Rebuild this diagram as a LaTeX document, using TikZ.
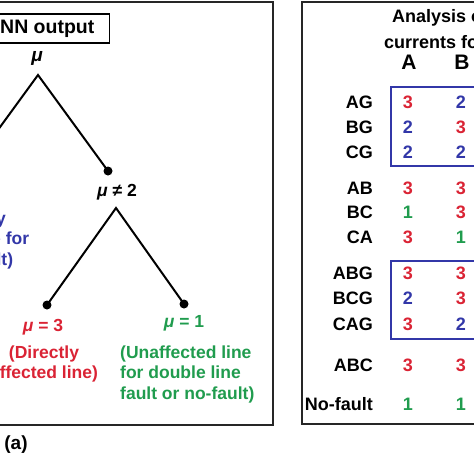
\documentclass[tikz,border=0pt]{standalone}
\usepackage{fontspec}
\setmainfont{Liberation Sans}
\usepackage{xcolor}
\usepackage{tikz}
\usetikzlibrary{positioning,calc}

\definecolor{faultred}{RGB}{218,35,52}
\definecolor{faultblue}{RGB}{50,55,168}
\definecolor{faultgreen}{RGB}{32,156,78}

\begin{document}
\begin{tikzpicture}[
    x=1pt, y=-1pt,
    every node/.style={font=\fontsize{17.5}{20.5}\selectfont\bfseries, inner sep=0pt},
    panel/.style={draw=black!85, line width=1.8pt},
    branch/.style={draw, line width=2pt},
    leaf/.style={circle, fill, minimum size=9pt},
    group/.style={draw=faultblue, line width=1.2pt},
    rowname/.style={anchor=east, font=\fontsize{18}{21}\selectfont\bfseries},
    entry/.style={font=\fontsize{18}{21}\selectfont\bfseries},
    colhead/.style={font=\fontsize{21}{24}\selectfont\bfseries}
]
\useasboundingbox (0,0) rectangle (474,474);

\draw[panel] (-5,2) rectangle (273,425);
\draw[panel] (302,2) rectangle (480,424);

\node[draw, line width=1.2pt, minimum height=29pt, inner xsep=15pt, anchor=east,
      font=\fontsize{19.5}{22}\selectfont\bfseries] (nn_out) at (110,28.5) {NN output};

\node[font=\fontsize{19}{22}\selectfont\bfseries] (mu_root) at (37,58) {\textit{μ}};
\coordinate (root) at (38,75);
\node[leaf] (dot_two) at (-32,171) {};
\node[leaf] (dot_ne) at (108,171) {};
\draw[branch] (dot_two.center) -- (root) -- (dot_ne.center);

\node (mu_ne) at (117,192) {\textit{μ} ≠ 2};
\coordinate (sub) at (116,208);
\node[leaf] (dot_three) at (47,305) {};
\node[leaf] (dot_one) at (184,304) {};
\draw[branch] (dot_three.center) -- (sub) -- (dot_one.center);

\node[faultblue, align=center, anchor=north] (txt_two) at (-36,211.5) {(Indirectly\\affected line for\\single fault)};

\node[faultred] (mu_three) at (43,327) {\textit{μ} = 3};
\node[faultred, align=center, anchor=north] (txt_three) at (44,345.5) {(Directly\\affected line)};

\node[faultgreen] (mu_one) at (184,323) {\textit{μ} = 1};
\node[faultgreen, align=left, anchor=north west] (txt_one) at (120,345.5) {(Unaffected line\\for double line\\fault or no-fault)};

\node[font=\fontsize{19}{22}\selectfont\bfseries] (label_a) at (16,445) {(a)};

\node[anchor=west, entry] (title_one) at (392,18) {Analysis of};
\node[anchor=west, entry] (title_two) at (384,42) {currents for};
\node[colhead] (col_a) at (409,62) {A};
\node[colhead] (col_b) at (462,62) {B};

\draw[group] (391,87) rectangle (480,166);
\draw[group] (391,261) rectangle (480,339);

\foreach \key/\name/\ypos/\va/\ca/\vb/\cb in {
    ag/AG/102/3/faultred/2/faultblue,
    bg/BG/127/2/faultblue/3/faultred,
    cg/CG/152/2/faultblue/2/faultblue,
    ab/AB/188/3/faultred/3/faultred,
    bc/BC/212/1/faultgreen/3/faultred,
    ca/CA/237/3/faultred/1/faultgreen,
    abg/ABG/273/3/faultred/3/faultred,
    bcg/BCG/298/2/faultblue/3/faultred,
    cag/CAG/324/3/faultred/2/faultblue,
    abc/ABC/365/3/faultred/3/faultred,
    nf/No-fault/404/1/faultgreen/1/faultgreen}
{
    \node[rowname] (row_\key) at (373,\ypos) {\name};
    \node[entry, text=\ca] (\key_a) at (408,\ypos) {\va};
    \node[entry, text=\cb] (\key_b) at (461,\ypos) {\vb};
}

\end{tikzpicture}
\end{document}
